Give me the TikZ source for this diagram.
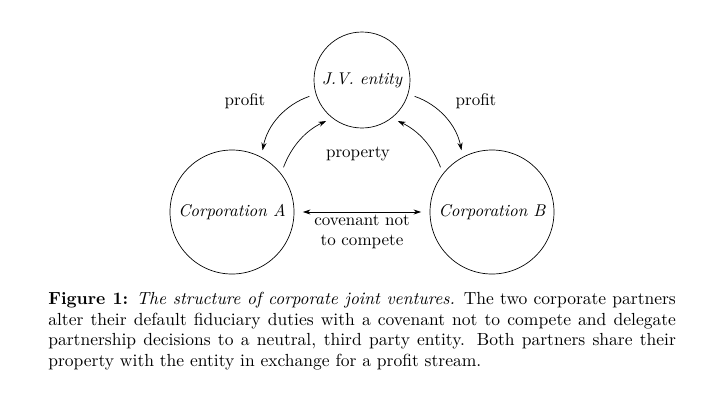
\documentclass[tikz,border=0pt]{standalone}
\usetikzlibrary{arrows.meta}
\begin{document}
\begin{tikzpicture}[x=0.588pt,y=-0.588pt,
  ent/.style={draw,circle,font=\itshape},
  arr/.style={-{Stealth[length=4.5pt,width=3pt]},shorten <=4pt,shorten >=4pt},
  lab/.style={font=\normalsize}]
\useasboundingbox (0,0) rectangle (704,410);
\node[ent,minimum size=96*0.588pt] (jv) at (362,80) {J.V.\ entity};
\node[ent,minimum size=124*0.588pt] (a) at (232,212) {Corporation A};
\node[ent,minimum size=124*0.588pt] (b) at (492,212) {Corporation B};
\draw[arr] (jv.197) to[bend right=30] (a.62);
\draw[arr] (jv.-17) to[bend left=30] (b.118);
\draw[arr] (a.38) to[bend left=22] (jv.232);
\draw[arr] (b.142) to[bend right=22] (jv.-52);
\draw[{Stealth[length=4.5pt,width=3pt]}-{Stealth[length=4.5pt,width=3pt]},shorten <=5pt,shorten >=5pt] (a.east) -- (b.west);
\node[lab] (p1) at (245,101) {profit};
\node[lab] (p2) at (476,101) {profit};
\node[lab] (pr) at (358,154) {property};
\node[lab,align=center] (cv) at (362,232) {covenant not\\to compete};
\node[anchor=north west,text width=369pt,align=justify,inner sep=0pt,font=\fontsize{10.3}{12.1}\selectfont] (cap) at (48,292)
{\textbf{Figure 1:} \textit{The structure of corporate joint ventures.} The two corporate partners alter their default fiduciary duties with a covenant not to compete and delegate partnership decisions to a neutral, third party entity. Both partners share their property with the entity in exchange for a profit stream.};
\end{tikzpicture}
\end{document}
